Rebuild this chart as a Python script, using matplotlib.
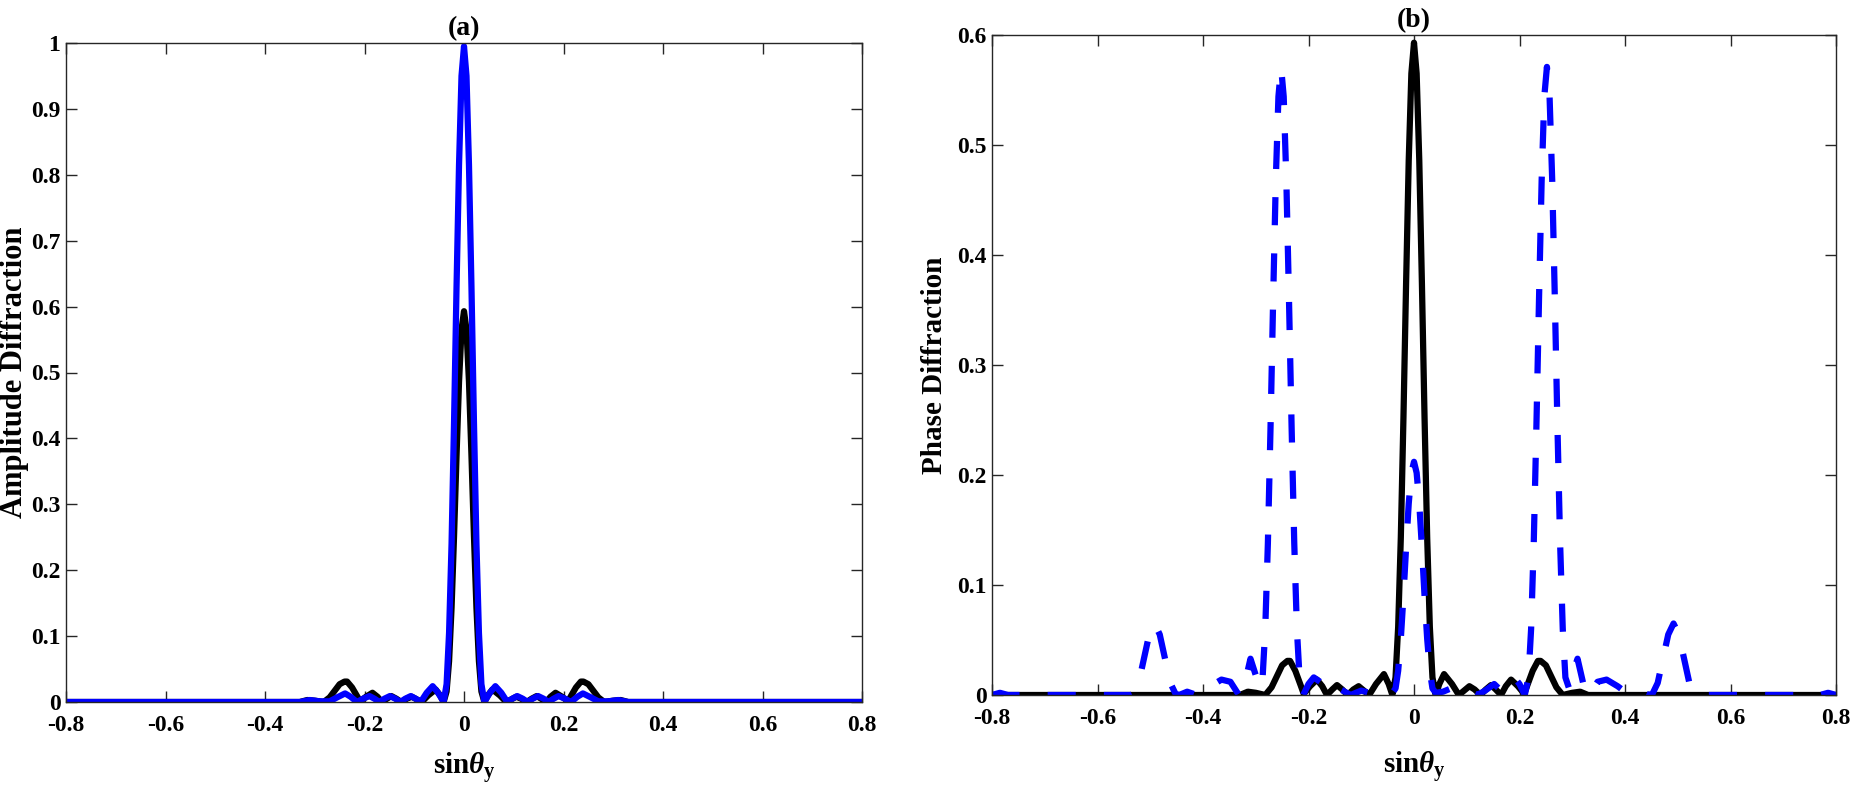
import matplotlib
matplotlib.use('Agg')
import matplotlib.pyplot as plt
from matplotlib.ticker import FuncFormatter

plt.rcParams['font.family'] = ['Liberation Serif', 'DejaVu Serif']
plt.rcParams['font.weight'] = 'bold'
plt.rcParams['axes.unicode_minus'] = False
plt.rcParams['mathtext.fontset'] = 'custom'
plt.rcParams['mathtext.rm'] = 'Liberation Serif:bold'
plt.rcParams['mathtext.it'] = 'Liberation Serif:italic:bold'
plt.rcParams['mathtext.bf'] = 'Liberation Serif:bold'

# black curve (same in both panels)
black_x = [-0.80, -0.33, -0.315, -0.30, -0.282, -0.27, -0.26, -0.25, -0.24, -0.235,
           -0.225, -0.215, -0.209, -0.197, -0.184, -0.174, -0.165, -0.155, -0.146,
           -0.136, -0.126, -0.115, -0.105, -0.095, -0.085, -0.072, -0.057, -0.048,
           -0.041, -0.035, -0.03, -0.025, -0.02, -0.015, -0.01, -0.005, 0.0,
           0.005, 0.01, 0.015, 0.02, 0.025, 0.03, 0.035, 0.041, 0.048, 0.057, 0.072,
           0.085, 0.095, 0.105, 0.115, 0.126, 0.136, 0.146, 0.155, 0.165, 0.174,
           0.184, 0.197, 0.209, 0.215, 0.225, 0.235, 0.24, 0.25, 0.26, 0.27, 0.282,
           0.30, 0.315, 0.33, 0.80]
black_y = [0.0, 0.0, 0.003, 0.002, 0.0, 0.007, 0.017, 0.027, 0.031, 0.031,
           0.022, 0.009, 0.001, 0.008, 0.014, 0.008, 0.0, 0.005, 0.009,
           0.005, 0.0, 0.005, 0.008, 0.004, 0.0, 0.010, 0.019, 0.010,
           0.0, 0.016, 0.062, 0.143, 0.252, 0.374, 0.486, 0.565, 0.593,
           0.565, 0.486, 0.374, 0.252, 0.143, 0.062, 0.016, 0.0, 0.010, 0.019, 0.010,
           0.0, 0.004, 0.008, 0.005, 0.0, 0.005, 0.009, 0.005, 0.0, 0.008,
           0.014, 0.008, 0.001, 0.009, 0.022, 0.031, 0.031, 0.027, 0.017, 0.007, 0.0,
           0.002, 0.003, 0.0, 0.0]

# blue curve, panel (a)
amp_x = [-0.80, -0.33, -0.31, -0.29, -0.27, -0.255, -0.239, -0.228, -0.215, -0.203,
         -0.19, -0.18, -0.17, -0.16, -0.149, -0.138, -0.128, -0.118, -0.107, -0.097,
         -0.087, -0.075, -0.063, -0.052, -0.041, -0.035, -0.03, -0.025, -0.02, -0.015,
         -0.01, -0.005, 0.0, 0.005, 0.01, 0.015, 0.02, 0.025, 0.03, 0.035, 0.041,
         0.052, 0.063, 0.075, 0.087, 0.097, 0.107, 0.118, 0.128, 0.138, 0.149, 0.16,
         0.17, 0.18, 0.19, 0.203, 0.215, 0.228, 0.239, 0.255, 0.27, 0.29, 0.31, 0.33,
         0.80]
amp_y = [0.0, 0.0, 0.003, 0.001, 0.001, 0.007, 0.013, 0.008, 0.0, 0.005,
         0.009, 0.005, 0.0, 0.005, 0.009, 0.005, 0.0, 0.005, 0.009, 0.005,
         0.0, 0.014, 0.024, 0.014, 0.0, 0.027, 0.105, 0.24, 0.425, 0.63,
         0.815, 0.95, 0.995, 0.95, 0.815, 0.63, 0.425, 0.24, 0.105, 0.027, 0.0,
         0.014, 0.024, 0.014, 0.0, 0.005, 0.009, 0.005, 0.0, 0.005, 0.009, 0.005,
         0.0, 0.005, 0.009, 0.005, 0.0, 0.008, 0.013, 0.007, 0.001, 0.001, 0.003, 0.0,
         0.0]

# blue dashed curve, panel (b)
phase_x = [-0.80, -0.785, -0.77, -0.60, -0.545, -0.537, -0.532, -0.522, -0.512, -0.502,
           -0.492, -0.482, -0.472, -0.462, -0.452, -0.445, -0.43, -0.412, -0.40, -0.386,
           -0.365, -0.348, -0.332, -0.322, -0.31, -0.30, -0.294, -0.287, -0.282, -0.277,
           -0.272, -0.267, -0.262, -0.257, -0.252, -0.247, -0.242, -0.237, -0.232,
           -0.227, -0.222, -0.217, -0.21, -0.2, -0.19, -0.178, -0.165, -0.152, -0.135,
           -0.12, -0.1, -0.085, -0.07, -0.055, -0.041, -0.035, -0.03, -0.025, -0.02,
           -0.015, -0.01, -0.005, 0.0, 0.005, 0.01, 0.015, 0.02, 0.025, 0.03, 0.035,
           0.041, 0.055, 0.07, 0.085, 0.1, 0.12, 0.135, 0.152, 0.165, 0.178, 0.19, 0.2,
           0.21, 0.217, 0.222, 0.227, 0.232, 0.237, 0.242, 0.247, 0.252, 0.257, 0.262,
           0.267, 0.272, 0.277, 0.282, 0.287, 0.294, 0.30, 0.31, 0.322, 0.332, 0.348,
           0.365, 0.386, 0.40, 0.412, 0.43, 0.445, 0.452, 0.462, 0.472, 0.482, 0.492,
           0.502, 0.512, 0.522, 0.532, 0.537, 0.545, 0.60, 0.77, 0.785, 0.80]
phase_y = [0.0, 0.002, 0.0, 0.0, 0.0, 0.0, 0.001, 0.011, 0.033, 0.055,
           0.065, 0.055, 0.033, 0.011, 0.001, 0.0, 0.003, 0.0, 0.003, 0.008,
           0.014, 0.012, 0.0, 0.008, 0.033, 0.018, 0.006, 0.016, 0.06, 0.138,
           0.243, 0.36, 0.468, 0.544, 0.571, 0.544, 0.468, 0.36, 0.243,
           0.138, 0.06, 0.016, 0.0, 0.010, 0.016, 0.012, 0.004, 0.008, 0.004,
           0.0, 0.004, 0.002, 0.005, 0.003, 0.002, 0.006, 0.022, 0.051, 0.09,
           0.134, 0.174, 0.202, 0.212, 0.202, 0.174, 0.134, 0.09, 0.051, 0.022, 0.006,
           0.002, 0.003, 0.006, 0.002, 0.004, 0.0, 0.004, 0.010, 0.004, 0.012, 0.016, 0.010,
           0.0, 0.016, 0.06, 0.138, 0.243, 0.36, 0.468, 0.544, 0.571, 0.544, 0.468,
           0.36, 0.243, 0.138, 0.06, 0.016, 0.006, 0.018, 0.033, 0.008, 0.0, 0.012,
           0.014, 0.008, 0.003, 0.0, 0.003, 0.0, 0.001, 0.011, 0.033, 0.055, 0.065,
           0.055, 0.033, 0.011, 0.001, 0.0, 0.0, 0.0, 0.0, 0.002, 0.0]

xticks = [-0.8, -0.6, -0.4, -0.2, 0, 0.2, 0.4, 0.6, 0.8]
amp_yticks = [0, 0.1, 0.2, 0.3, 0.4, 0.5, 0.6, 0.7, 0.8, 0.9, 1]
phase_yticks = [0, 0.1, 0.2, 0.3, 0.4, 0.5, 0.6]

fmt = FuncFormatter(lambda v, p: '%g' % round(v, 2))

fig = plt.figure(figsize=(18.5, 7.99), dpi=100)
ax1 = fig.add_axes([66 / 1850, 97 / 799, 796 / 1850, 659 / 799])
ax2 = fig.add_axes([992 / 1850, 104 / 799, 844 / 1850, 660 / 799])

ax1.plot(black_x, black_y, color='black', lw=4.5, solid_joinstyle='round')
ax1.plot(amp_x, amp_y, color='#0000ff', lw=4.5, solid_joinstyle='round')
ax1.set_xlim(-0.8, 0.8)
ax1.set_ylim(0, 1)
ax1.set_yticks(amp_yticks)
ax1.set_title('(a)', fontsize=20, fontweight='bold', pad=6)
ax1.set_ylabel('Amplitude Diffraction', fontsize=22, fontweight='bold')
ax1.yaxis.set_label_coords(-0.047, 0.5)
ax1.set_xlabel(r'sin$\theta_{\rm y}$', fontsize=21, fontweight='bold')
ax1.xaxis.set_label_coords(0.5, -0.074)

ax2.plot(black_x, black_y, color='black', lw=4.5, solid_joinstyle='round')
ax2.plot(phase_x, phase_y, color='#0000ff', lw=4.5, linestyle=(0, (4.5, 4.5)))
ax2.set_xlim(-0.8, 0.8)
ax2.set_ylim(0, 0.6)
ax2.set_yticks(phase_yticks)
ax2.set_title('(b)', fontsize=20, fontweight='bold', pad=6)
ax2.set_ylabel('Phase Diffraction', fontsize=21, fontweight='bold')
ax2.yaxis.set_label_coords(-0.052, 0.5)
ax2.set_xlabel(r'sin$\theta_{\rm y}$', fontsize=21, fontweight='bold')
ax2.xaxis.set_label_coords(0.5, -0.084)

for ax in (ax1, ax2):
    ax.set_xticks(xticks)
    ax.xaxis.set_major_formatter(fmt)
    ax.yaxis.set_major_formatter(fmt)
    ax.tick_params(direction='in', top=True, right=True, length=8, width=1,
                   labelsize=17, colors='#262626', labelcolor='black')
    ax.tick_params(axis='y', pad=4)
    ax.tick_params(axis='x', pad=9.5)
    for s in ax.spines.values():
        s.set_color('#262626')
        s.set_linewidth(1)

plt.savefig('out.png', dpi=100)
